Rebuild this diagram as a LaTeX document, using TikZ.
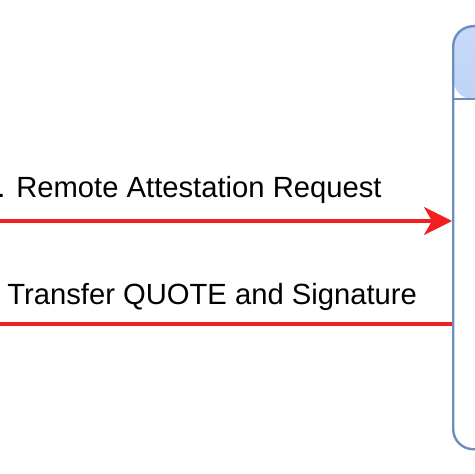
\documentclass[tikz,border=0pt]{standalone}
\usepackage{fontspec}
\setmainfont{Liberation Sans}
\definecolor{msgred}{RGB}{240,32,32}
\definecolor{laneblue}{RGB}{108,142,191}
\definecolor{headtop}{RGB}{200,218,248}
\definecolor{headbot}{RGB}{148,180,232}
\usetikzlibrary{arrows.meta}
\usetikzlibrary{positioning}

\tikzset{
  msg/.style={draw=msgred, line width=1.6pt},
  msglabel/.style={anchor=base west, inner sep=0pt, font=\fontsize{14.6}{17}\selectfont},
  lane/.style={draw=laneblue, line width=1.2pt, fill=white, rounded corners=10pt,
    anchor=north west, minimum width=40pt, minimum height=211.5pt,
    path picture={
      \shade[top color=headtop, bottom color=headbot]
        (path picture bounding box.north west) rectangle
        ([yshift=-36.5pt]path picture bounding box.north east);
      \draw[laneblue, line width=1.2pt]
        ([yshift=-36.5pt]path picture bounding box.north west) --
        ([yshift=-36.5pt]path picture bounding box.north east);
    }}
}

\begin{document}
\begin{tikzpicture}[x=0.5pt, y=-0.5pt]
  \useasboundingbox (0,0) rectangle (474,474);

  % verifier lane, cut at the right edge
  \node[lane] (ver) at (452,25) {};

  % messages
  \coordinate (req) at (0,221);
  \coordinate (quote) at (0,324);
  \draw[msg, -{Stealth[length=14pt, width=14pt, inset=4pt]}] (req) -- (req -| ver.west);
  \draw[msg] (quote -| ver.west) -- (quote);

  \node[msglabel] (reqlbl) at (-3,198) {. Remote Attestation Request};
  \node[msglabel] (quotelbl) at (7,305) {Transfer QUOTE and Signature};
\end{tikzpicture}
\end{document}
